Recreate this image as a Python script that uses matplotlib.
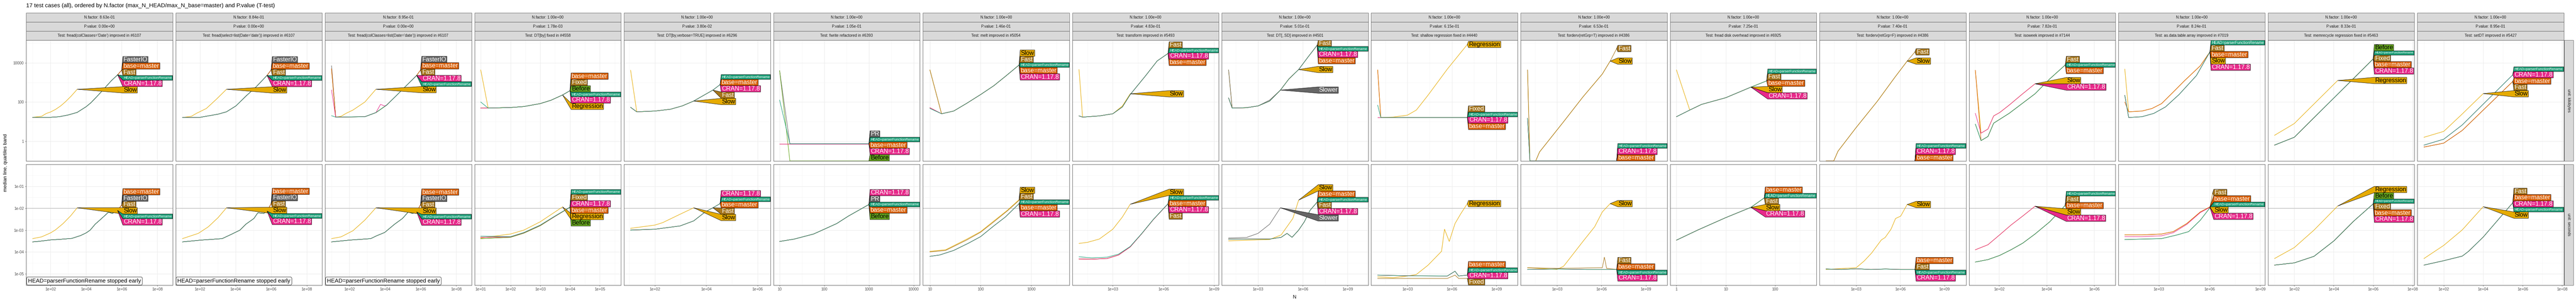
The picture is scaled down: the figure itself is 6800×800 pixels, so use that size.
import numpy as np
import matplotlib
matplotlib.use("Agg")
import matplotlib.pyplot as plt
from matplotlib.patches import Polygon, Rectangle
from matplotlib.transforms import IdentityTransform
from matplotlib.font_manager import FontProperties
from matplotlib.ticker import NullFormatter

FONT = "Liberation Sans"
plt.rcParams["font.family"] = [FONT, "DejaVu Sans"]

HEAD = "HEAD=parserFunctionRename"
BASE = "base=master"
CRAN = "CRAN=1.17.8"
Z = -np.inf  # 0 kilobytes -> log10 is -Inf, ggplot puts it on the panel edge

TITLE = "17 test cases (all), ordered by N.factor (max_N_HEAD/max_N_base=master) and P.value (T-test)"
TESTS = [
    "fread(colClasses='Date') improved in #6107",
    "fread(select=list(Date='date')) improved in #6107",
    "fread(colClasses=list(Date='date')) improved in #6107",
    "DT[by] fixed in #4558",
    "DT[by,verbose=TRUE] improved in #6296",
    "fwrite refactored in #6393",
    "melt improved in #5054",
    "transform improved in #5493",
    "DT[,.SD] improved in #4501",
    "shallow regression fixed in #4440",
    "forderv(retGrp=T) improved in #4386",
    "fread disk overhead improved in #6925",
    "forderv(retGrp=F) improved in #4386",
    "isoweek improved in #7144",
    "as.data.table.array improved in #7019",
    "memrecycle regression fixed in #5463",
    "setDT improved in #5427",
]
N_FACTOR = [0.863, 0.884, 0.895] + [1.0] * 14
P_VALUE = [0.0, 0.0, 0.0, 1.78e-3, 3.80e-2, 1.05e-1, 1.46e-1, 4.83e-1, 5.01e-1,
           6.15e-1, 6.53e-1, 7.25e-1, 7.40e-1, 7.82e-1, 8.24e-1, 8.33e-1, 8.95e-1]

# log10(N) range and breaks of every panel (free x scales)
X_LIM = [(0.633, 8.855), (0.633, 8.855), (0.633, 8.855), (0.79, 5.71), (0.79, 6.5),
         (0.86, 4.14), (0.86, 3.75), (0.60, 9.27), (0.57, 10.37), (0.55, 10.43),
         (0.54, 10.43), (-0.13, 2.84), (0.50, 10.47), (0.73, 6.89), (0.60, 9.27),
         (0.66, 8.08), (0.66, 8.08)]
X_BREAKS = [[2, 4, 6, 8]] * 3 + [[1, 2, 3, 4, 5], [2, 4, 6], [1, 2, 3, 4], [1, 2, 3],
            [3, 6, 9], [3, 6, 9], [3, 6, 9], [3, 6, 9], [0, 1, 2], [3, 6, 9],
            [2, 4, 6], [3, 6, 9], [2, 4, 6, 8], [2, 4, 6, 8]]
X_PLAIN = {5, 6, 11}

# curves: label -> (log10 N, log10 value)
# 0 fread(colClasses='Date')
p00_n = [1.0, 2.0, 2.5, 3.0, 3.5, 4.0, 4.28, 4.71, 5.06, 5.42, 5.77, 6.0]
p00_kb_v = [1.22, 1.22, 1.25, 1.34, 1.47, 1.76, 1.97, 2.38, 2.73, 3.09, 3.39, 3.63]
p00_kb = {
    "Slow": ([1.0, 1.5, 1.75, 2.0, 2.28, 2.57, 2.85, 3.17, 3.5],
             [1.22, 1.27, 1.41, 1.49, 1.62, 1.80, 2.02, 2.31, 2.65]),
    HEAD: (p00_n[:-1], p00_kb_v[:-1]), CRAN: (p00_n[:-1], p00_kb_v[:-1]),
    BASE: (p00_n, p00_kb_v), "Fast": (p00_n, p00_kb_v), "FasterIO": (p00_n, p00_kb_v),
}
p00_sn = [1.0, 1.29, 2.0, 2.57, 3.2, 3.69, 4.0, 4.23, 4.51, 4.83, 5.26, 5.47, 5.77, 6.0]
p00_sec_v = [-3.54, -3.52, -3.45, -3.42, -3.38, -3.25, -3.13, -3.0, -2.73, -2.50, -2.18, -2.24, -2.10, -1.85]
p00_sec = {
    "Slow": ([1.0, 1.5, 2.0, 2.28, 2.71, 3.13, 3.5], [-3.39, -3.31, -3.13, -2.99, -2.70, -2.35, -1.98]),
    HEAD: (p00_sn[:-1], p00_sec_v[:-1]), CRAN: (p00_sn[:-1], p00_sec_v[:-1]),
    BASE: (p00_sn, p00_sec_v), "Fast": (p00_sn, p00_sec_v), "FasterIO": (p00_sn, p00_sec_v),
}

# 1 fread(select=list(Date='date'))
p01_n = [1.02, 2.02, 3.02, 3.49, 4.02, 4.58, 5.14, 5.77, 6.0]
p01_kb_v = [1.21, 1.22, 1.38, 1.50, 1.80, 2.30, 2.76, 3.36, 3.64]
p01_kb = {
    "Slow": ([1.02, 1.52, 1.80, 2.36, 2.91, 3.49], [1.21, 1.27, 1.42, 1.67, 2.13, 2.65]),
    HEAD: (p01_n[:-1], p01_kb_v[:-1]), CRAN: (p01_n[:-1], p01_kb_v[:-1]),
    BASE: (p01_n, p01_kb_v), "Fast": (p01_n, p01_kb_v), "FasterIO": (p01_n, p01_kb_v),
}
p01_sn = [1.02, 2.02, 3.25, 3.80, 4.25, 4.58, 5.03, 5.25, 5.58, 5.77, 6.0]
p01_sec_v = [-3.54, -3.46, -3.39, -3.18, -3.0, -2.73, -2.47, -2.21, -2.24, -2.13, -1.79]
p01_sec = {
    "Slow": ([1.02, 1.91, 2.47, 3.02, 3.49], [-3.39, -3.15, -2.85, -2.43, -1.98]),
    HEAD: (p01_sn[:-1], p01_sec_v[:-1]), CRAN: (p01_sn[:-1], p01_sec_v[:-1]),
    BASE: (p01_sn, p01_sec_v), "Fast": (p01_sn, p01_sec_v), "FasterIO": (p01_sn, p01_sec_v),
}

# 2 fread(colClasses=list(Date='date'))
p02_n = [1.0, 1.23, 2.87, 3.49, 4.09, 4.65, 5.2, 5.78, 6.0]
p02_kb = {
    "Slow": ([1.0, 1.23, 1.53, 1.81, 2.2, 2.87, 3.49], [3.64, 1.23, 1.27, 1.42, 1.59, 2.0, 2.65]),
    HEAD: (p02_n[:-1], [1.30, 1.23, 1.25, 1.46, 1.84, 2.34, 2.84, 3.36]),
    CRAN: ([1.0, 1.23, 2.87, 3.49, 3.75, 3.98, 4.09, 4.65, 5.2, 5.78],
           [2.61, 1.23, 1.25, 1.46, 1.88, 1.80, 1.84, 2.34, 2.84, 3.36]),
    BASE: (p02_n, [3.70, 1.23, 1.25, 1.46, 1.84, 2.34, 2.84, 3.36, 3.64]),
    "Fast": (p02_n, [3.70, 1.23, 1.25, 1.46, 1.84, 2.34, 2.84, 3.36, 3.64]),
    "FasterIO": (p02_n, [3.85, 1.23, 1.25, 1.46, 1.84, 2.34, 2.84, 3.36, 3.64]),
}
p02_sn = [1.0, 1.98, 3.2, 3.53, 3.98, 4.54, 4.98, 5.31, 5.54, 5.78, 6.0]
p02_sec_v = [-3.54, -3.46, -3.39, -3.26, -3.11, -2.73, -2.47, -2.17, -2.24, -2.17, -1.83]
p02_sec = {
    "Slow": ([1.0, 1.53, 2.2, 2.87, 3.49], [-3.39, -3.31, -3.03, -2.54, -1.98]),
    HEAD: (p02_sn[:-1], p02_sec_v[:-1]), CRAN: (p02_sn[:-1], p02_sec_v[:-1]),
    BASE: (p02_sn, p02_sec_v), "Fast": (p02_sn, p02_sec_v), "FasterIO": (p02_sn, p02_sec_v),
}

# 3 DT[by]
p03_n = [1.0, 1.25, 2.0, 2.45, 3.0, 3.36, 3.75, 4.0]
p03_kb_v = [1.69, 1.69, 1.72, 1.77, 1.92, 2.09, 2.36, 2.58]
p03_kb = {
    "Regression": (p03_n[:-1], [3.64, 1.69, 1.72, 1.77, 1.92, 2.09, 2.36]),
    HEAD: (p03_n, [2.0] + p03_kb_v[1:]), CRAN: (p03_n, p03_kb_v), BASE: (p03_n, p03_kb_v),
    "Fixed": (p03_n, p03_kb_v), "Before": (p03_n, p03_kb_v),
}
p03_sn = [1.0, 2.0, 2.45, 3.0, 3.49, 4.0]
p03_sec = {
    "Regression": ([1.0, 2.0, 2.45, 3.0, 3.75], [-3.36, -3.18, -3.0, -2.62, -1.94]),
    HEAD: (p03_sn, [-3.28, -3.30, -3.11, -2.77, -2.36, -1.95]),
    CRAN: (p03_sn, [-3.33, -3.31, -3.12, -2.78, -2.37, -1.95]),
    BASE: (p03_sn, [-3.33, -3.31, -3.12, -2.78, -2.37, -1.95]),
    "Fixed": (p03_sn, [-3.39, -3.33, -3.14, -2.80, -2.38, -1.96]),
    "Before": (p03_sn, [-3.39, -3.33, -3.14, -2.80, -2.38, -1.96]),
}

# 4 DT[by,verbose=TRUE]
p04_n = [1.05, 1.29, 2.0, 2.6, 3.06, 3.51, 4.26, 4.54]
p04_kb_v = [1.73, 1.50, 1.54, 1.63, 1.80, 2.05, 2.61, 2.89]
p04_kb = {
    "Slow": (p04_n[:6], [3.62, 1.50, 1.54, 1.63, 1.80, 2.05]),
    "Fast": (p04_n[:7], p04_kb_v[:7]),
    HEAD: (p04_n, p04_kb_v), CRAN: (p04_n, p04_kb_v), BASE: (p04_n, p04_kb_v),
}
p04_sn = [1.05, 2.0, 2.98, 3.51, 3.96, 4.26, 4.54]
p04_sec_v = [-3.0, -2.96, -2.81, -2.58, -2.17, -1.98, -1.79]
p04_sec = {
    "Slow": ([1.05, 2.0, 2.3, 2.9, 3.51], [-2.92, -2.77, -2.66, -2.32, -1.98]),
    "Fast": (p04_sn[:-1], p04_sec_v[:-1]),
    HEAD: (p04_sn, p04_sec_v), CRAN: (p04_sn, p04_sec_v), BASE: (p04_sn, p04_sec_v),
}

# 5 fwrite
p05_kb = {
    "PR": ([1.0, 1.23, 3.0], [3.6, -0.13, -0.13]),
    HEAD: ([1.0, 1.23, 3.0], [2.1, -0.13, -0.13]),
    BASE: ([1.0, 3.0], [-0.13, -0.13]),
    CRAN: ([1.0, 3.0], [-0.13, -0.13]),
    "Before": ([1.0, 1.23, 3.0], [3.6, Z, Z]),
}
p05_sn = [1.0, 1.33, 1.76, 2.0, 2.28, 2.54, 3.0]
p05_sec_v = [-3.52, -3.41, -3.18, -2.96, -2.70, -2.36, -1.83]
p05_sec = {k: (p05_sn, p05_sec_v) for k in ["PR", HEAD, BASE, CRAN, "Before"]}

# 6 melt
p06_n = [1.0, 1.23, 1.47, 1.73, 2.0, 2.26, 2.49, 2.76]
p06_kb_v = [1.40, 1.54, 1.94, 2.38, 2.83, 3.31, 3.89]
p06_kb = {
    "Slow": (p06_n, [3.64] + p06_kb_v), "Fast": (p06_n, [3.64] + p06_kb_v),
    HEAD: (p06_n, [1.67] + p06_kb_v), CRAN: (p06_n, [1.71] + p06_kb_v),
    BASE: (p06_n, [1.71] + p06_kb_v),
}
p06_sn = [1.0, 1.19, 1.47, 1.76, 2.0, 2.26, 2.49, 2.76]
p06_sec_v = [-4.20, -4.14, -3.93, -3.60, -3.30, -2.81, -2.40, -1.79]
p06_sec = {
    "Slow": ([1.0, 1.31, 1.73, 2.0, 2.22, 2.53, 2.76], [-3.97, -3.90, -3.41, -3.07, -2.66, -2.09, -1.61]),
    "Fast": ([1.0, 1.31, 1.73, 2.0, 2.22, 2.53, 2.76], [-4.0, -3.93, -3.45, -3.10, -2.70, -2.12, -1.64]),
    HEAD: (p06_sn, p06_sec_v), CRAN: (p06_sn, p06_sec_v), BASE: (p06_sn, p06_sec_v),
}

# 7 transform
p07_n = [1.0, 1.21, 2.2, 3.0, 3.57, 4.03, 4.95, 5.63, 6.27]
p07_kb_v = [1.29, 1.23, 1.29, 1.40, 1.75, 2.38, 3.35, 4.10, 4.48]
p07_kb = {
    "Slow": (p07_n[:6], [3.66, 1.23, 1.29, 1.40, 1.80, 2.42]),
    HEAD: (p07_n, p07_kb_v), CRAN: (p07_n, p07_kb_v), BASE: (p07_n, p07_kb_v), "Fast": (p07_n, p07_kb_v),
}
p07_sn = [1.0, 1.74, 2.66, 3.34, 4.03, 4.72, 5.4, 6.27]
p07_sec_v = [-4.32, -4.33, -4.30, -4.14, -3.77, -3.16, -2.52, -1.80]
p07_sec = {
    "Slow": ([1.0, 1.5, 2.2, 3.0, 3.57, 4.03], [-3.61, -3.56, -3.41, -2.96, -2.40, -1.82]),
    HEAD: (p07_sn, [-4.22, -4.27, -4.24, -4.10, -3.75, -3.15, -2.51, -1.79]),
    CRAN: (p07_sn, p07_sec_v), BASE: (p07_sn, p07_sec_v), "Fast": (p07_sn, p07_sec_v),
}

# 8 DT[,.SD]
p08_n = [1.03, 1.27, 2.22, 3.0, 3.78, 4.5, 5.07, 5.72, 6.36, 6.96]
p08_kb_v = [2.21, 1.69, 1.71, 1.80, 2.05, 2.61, 3.18, 3.66, 4.31, 4.90]
p08_kb = {
    "Slower": (p08_n[:6], [3.64, 1.69, 1.71, 1.80, 2.10, 2.61]),
    "Slow": (p08_n[:8], [3.64, 1.69, 1.71, 1.80, 2.05, 2.61, 3.18, 3.66]),
    HEAD: (p08_n, p08_kb_v), CRAN: (p08_n, p08_kb_v), BASE: (p08_n, p08_kb_v), "Fast": (p08_n, p08_kb_v),
}
p08_sn = [1.03, 3.78, 4.55, 4.94, 5.28, 5.72, 6.10, 6.49, 6.96]
p08_sec_v = [-3.41, -3.41, -3.33, -3.15, -3.33, -3.0, -2.62, -2.09, -1.72]
p08_sec = {
    "Slower": ([1.03, 2.22, 3.0, 3.78, 4.5], [-3.36, -3.34, -3.15, -2.73, -1.98]),
    "Slow": ([1.03, 3.78, 4.55, 5.33, 5.72], [-3.49, -3.43, -3.22, -2.47, -1.63]),
    HEAD: (p08_sn, p08_sec_v), CRAN: (p08_sn, p08_sec_v), BASE: (p08_sn, p08_sec_v), "Fast": (p08_sn, p08_sec_v),
}

# 9 shallow regression
p09_kb = {
    "Regression": ([0.99, 1.2, 2.03, 3.0, 3.6, 4.38, 5.69, 7.04], [3.64, 1.21, 1.23, 1.33, 1.59, 2.34, 3.68, 4.94]),
    HEAD: ([0.99, 1.2, 7.04], [1.84, 1.21, 1.21]),
    BASE: ([0.99, 1.2, 7.04], [3.64, 1.21, 1.21]),
    CRAN: ([0.99, 1.2, 7.04], [1.21, 1.21, 1.21]),
    "Fixed": ([0.99, 1.2, 7.04], [1.21, 1.21, 1.21]),
}
p09_sn = [0.99, 3.0, 5.69, 6.21, 6.45, 7.04]
p09_sec_v = [-5.06, -5.09, -5.10, -4.88, -5.10, -5.06]
p09_sec = {
    "Regression": ([0.99, 2.03, 3.0, 3.6, 4.38, 5.3, 5.5, 5.82, 6.21, 6.6, 7.04],
                   [-5.14, -5.18, -5.10, -5.03, -4.61, -3.97, -2.96, -3.52, -2.70, -2.25, -1.79]),
    HEAD: (p09_sn, p09_sec_v), CRAN: (p09_sn, p09_sec_v), BASE: (p09_sn, p09_sec_v),
    "Fixed": (p09_sn, [-5.21, -5.21, -5.21, -5.06, -5.21, -5.21]),
}

# 10 forderv(retGrp=T)
p10_n = [1.01, 1.17, 1.56, 1.82, 3.45, 4.75, 6.06, 6.59, 7.03]
p10_kb_v = [3.64, Z, Z, -0.55, 1.0, 2.26, 3.43, 4.09, 4.73]
p10_kb = {
    "Slow": (p10_n[:-1], p10_kb_v[:-1]), "Fast": (p10_n, p10_kb_v),
    HEAD: ([1.01, 1.17, 7.03], [1.17, Z, Z]), CRAN: ([1.01, 1.17, 7.03], [1.17, Z, Z]),
    BASE: ([1.01, 1.17, 7.03], [1.17, Z, Z]),
}
p10_sec = {
    "Slow": ([1.01, 3.0, 3.45, 4.75, 5.54, 6.06, 6.59], [-4.72, -4.8, -4.65, -3.52, -2.85, -2.17, -1.79]),
    "Fast": ([1.01, 3.0, 6.06, 6.2, 6.35, 7.03], [-4.72, -4.75, -4.72, -4.24, -4.75, -4.8]),
    HEAD: ([1.01, 3.0, 5.0, 7.03], [-4.8, -4.78, -4.8, -4.8]),
    CRAN: ([1.01, 3.0, 5.0, 7.03], [-4.8, -4.78, -4.8, -4.8]),
    BASE: ([1.01, 3.0, 5.0, 7.03], [-4.8, -4.78, -4.8, -4.8]),
}

# 11 fread disk overhead
p11_n = [0.0, 0.27, 0.51, 1.0, 1.51, 1.83]
p11_kb_v = [1.25, 1.59, 1.88, 2.22, 2.76, 3.08]
p11_kb = {
    "Slow": (p11_n[:-1], [3.64, 1.59, 1.88, 2.22, 2.76]), CRAN: (p11_n[:-1], p11_kb_v[:-1]),
    HEAD: (p11_n, p11_kb_v), BASE: (p11_n, p11_kb_v), "Fast": (p11_n, p11_kb_v),
}
p11_sn = [0.0, 0.43, 1.0, 1.51, 1.78]
p11_sec_v = [-3.46, -3.0, -2.43, -1.96, -1.53]
p11_sec = {
    "Slow": (p11_sn[:-1], p11_sec_v[:-1]), CRAN: (p11_sn[:-1], p11_sec_v[:-1]),
    HEAD: (p11_sn, p11_sec_v), BASE: (p11_sn, p11_sec_v), "Fast": (p11_sn, p11_sec_v),
}

# 12 forderv(retGrp=F)
p12_n = [0.95, 1.47, 1.76, 3.0, 4.45, 5.63, 6.47, 7.0]
p12_kb_v = [Z, Z, -0.51, 0.70, 2.05, 3.26, 4.09, 4.56]
p12_kb = {
    "Slow": (p12_n[:-1], p12_kb_v[:-1]), "Fast": (p12_n, p12_kb_v),
    HEAD: ([0.95, 7.0], [Z, Z]), CRAN: ([0.95, 7.0], [Z, Z]), BASE: ([0.95, 7.0], [Z, Z]),
}
p12_sn = [0.95, 2.0, 3.0, 4.0, 5.0, 6.0, 7.0]
p12_sec_v = [-4.78, -4.80, -4.77, -4.80, -4.78, -4.80, -4.80]
p12_sec = {
    "Slow": ([0.95, 3.0, 3.53, 4.05, 4.71, 4.97, 5.37, 5.68, 6.03, 6.47],
             [-4.8, -4.72, -4.42, -4.05, -3.45, -3.34, -2.96, -2.47, -2.36, -1.83]),
    HEAD: (p12_sn, p12_sec_v), CRAN: (p12_sn, p12_sec_v), BASE: (p12_sn, p12_sec_v), "Fast": (p12_sn, p12_sec_v),
}

# 13 isoweek
p13_n_slow = [1.0, 1.24, 1.53, 1.77, 2.02, 2.42, 2.99, 3.51]
p13_n = [1.0, 1.24, 1.53, 1.77, 2.42, 3.51, 4.13, 4.78]
p13_kb_v = [0.03, 0.24, 0.92, 1.42, 2.42, 3.18, 3.89]
p13_kb = {
    "Slow": (p13_n_slow, [3.62, 0.41, 0.62, 1.29, 1.46, 1.84, 2.42, 2.93]),
    CRAN: (p13_n_slow, [1.42, 0.41, 0.62, 1.29, 1.46, 1.84, 2.42, 2.93]),
    HEAD: (p13_n, [0.87] + p13_kb_v), "Fast": (p13_n, [0.87] + p13_kb_v), BASE: (p13_n, [3.62] + p13_kb_v),
}
p13_sn = [1.0, 1.53, 2.02, 2.5, 2.99, 3.51, 4.13, 4.78]
p13_sec_v = [-4.46, -4.35, -4.16, -3.90, -3.60, -3.18, -2.62, -1.87]
p13_sec = {
    "Slow": (p13_sn[:6], [-3.90, -3.67, -3.22, -2.77, -2.36, -1.91]),
    CRAN: (p13_sn[:6], [-3.90, -3.67, -3.22, -2.77, -2.36, -1.91]),
    HEAD: (p13_sn, p13_sec_v), "Fast": (p13_sn, p13_sec_v), BASE: (p13_sn, p13_sec_v),
}

# 14 as.data.table.array
p14_n_up = [0.98, 1.21, 2.0, 2.59, 3.16, 3.85, 4.53, 5.45, 6.02]
p14_up_v = [1.50, 1.54, 1.67, 1.92, 2.51, 3.10, 3.85, 4.56]
p14_n_lo = [0.98, 1.21, 2.0, 2.7, 3.39, 4.19, 5.22, 6.02]
p14_lo_v = [2.34, 1.21, 1.25, 1.42, 1.75, 2.38, 3.35, 4.56]
p14_kb = {
    "Slow": (p14_n_up, [3.68] + p14_up_v), BASE: (p14_n_up, [2.0] + p14_up_v),
    HEAD: (p14_n_lo, p14_lo_v), CRAN: (p14_n_lo, p14_lo_v), "Fast": (p14_n_lo, p14_lo_v),
}
p14_sn = [0.98, 2.0, 3.16, 3.85, 4.65, 5.45, 6.02]
p14_sec = {
    "Slow": (p14_sn, [-3.22, -3.22, -3.18, -3.07, -2.70, -2.17, -1.94]),
    BASE: (p14_sn, [-3.22, -3.22, -3.18, -3.07, -2.70, -2.17, -1.94]),
    CRAN: (p14_sn, [-3.30, -3.30, -3.26, -3.12, -2.74, -2.20, -1.96]),
    HEAD: ([0.98, 3.16, 4.08, 4.76, 5.45, 6.02], [-3.43, -3.39, -3.22, -3.07, -2.55, -1.98]),
    "Fast": ([0.98, 3.16, 4.08, 4.76, 5.45, 6.02, 6.18], [-3.43, -3.39, -3.22, -3.07, -2.55, -1.98, -1.31]),
}

# 15 memrecycle regression
p15_n = [1.0, 2.0, 3.0, 4.0, 5.0, 6.0]
p15_kb_v = [-0.2, 0.2, 1.2, 2.2, 3.2, 4.2]
p15_kb = {
    "Regression": ([1.0, 2.0, 3.0, 4.2], [0.3, 0.9, 1.9, 3.1]),
    "Before": (p15_n, p15_kb_v), HEAD: (p15_n, p15_kb_v), "Fixed": (p15_n, p15_kb_v),
    BASE: (p15_n, p15_kb_v), CRAN: (p15_n, p15_kb_v),
}
p15_sec_v = [-4.6, -4.5, -4.2, -3.5, -2.6, -1.8]
p15_sec = {
    "Regression": ([1.0, 2.0, 3.0, 4.2], [-4.3, -3.8, -3.0, -1.9]),
    "Before": (p15_n, p15_sec_v), HEAD: (p15_n, p15_sec_v), "Fixed": (p15_n, p15_sec_v),
    BASE: (p15_n, p15_sec_v), CRAN: (p15_n, p15_sec_v),
}

# 16 setDT
p16_kb = {
    "Slow": ([1.0, 2.0, 2.94, 4.0], [0.2, 0.5, 1.39, 2.43]),
    HEAD: ([1.0, 2.0, 2.94, 5.5], [-0.2, 0.1, 0.83, 3.39]),
    CRAN: ([1.0, 2.0, 2.94, 5.5], [-0.2, 0.1, 0.83, 3.39]),
    BASE: ([1.0, 2.0, 2.94, 5.5], [-0.3, -0.1, 0.55, 3.05]),
    "Fast": ([1.0, 2.0, 2.94, 5.5], [-0.3, -0.1, 0.55, 3.05]),
}
p16_sn = [1.0, 2.0, 2.94, 3.26, 4.0, 5.5]
p16_sec_v = [-4.6, -4.4, -4.19, -3.97, -3.32, -1.75]
p16_sec = {
    "Slow": ([1.0, 2.0, 2.94, 4.0], [-4.3, -3.7, -2.99, -1.93]),
    HEAD: (p16_sn, p16_sec_v), CRAN: (p16_sn, p16_sec_v),
    BASE: (p16_sn, p16_sec_v), "Fast": (p16_sn, p16_sec_v),
}

KB = [p00_kb, p01_kb, p02_kb, p03_kb, p04_kb, p05_kb, p06_kb, p07_kb, p08_kb,
      p09_kb, p10_kb, p11_kb, p12_kb, p13_kb, p14_kb, p15_kb, p16_kb]
SEC = [p00_sec, p01_sec, p02_sec, p03_sec, p04_sec, p05_sec, p06_sec, p07_sec, p08_sec,
       p09_sec, p10_sec, p11_sec, p12_sec, p13_sec, p14_sec, p15_sec, p16_sec]

# top-to-bottom order of the direct labels in each panel
KB_ORDER = [
    ["FasterIO", BASE, "Fast", HEAD, CRAN, "Slow"],
    ["FasterIO", BASE, "Fast", HEAD, CRAN, "Slow"],
    ["FasterIO", BASE, "Fast", CRAN, HEAD, "Slow"],
    [BASE, "Fixed", "Before", HEAD, CRAN, "Regression"],
    [HEAD, BASE, CRAN, "Fast", "Slow"],
    ["PR", HEAD, BASE, CRAN, "Before"],
    ["Slow", "Fast", HEAD, BASE, CRAN],
    ["Fast", HEAD, CRAN, BASE, "Slow"],
    ["Fast", HEAD, CRAN, BASE, "Slow", "Slower"],
    ["Regression", "Fixed", HEAD, CRAN, BASE],
    ["Fast", "Slow", HEAD, CRAN, BASE],
    [HEAD, "Fast", BASE, "Slow", CRAN],
    ["Fast", "Slow", HEAD, CRAN, BASE],
    ["Fast", HEAD, BASE, "Slow", CRAN],
    [HEAD, "Fast", BASE, "Slow", CRAN],
    ["Before", HEAD, "Fixed", BASE, CRAN, "Regression"],
    [HEAD, CRAN, BASE, "Fast", "Slow"],
]
SEC_ORDER = [
    [BASE, "FasterIO", "Fast", "Slow", HEAD, CRAN],
    [BASE, "FasterIO", "Fast", "Slow", HEAD, CRAN],
    [BASE, "FasterIO", "Fast", "Slow", HEAD, CRAN],
    [HEAD, "Fixed", CRAN, BASE, "Regression", "Before"],
    [CRAN, HEAD, BASE, "Fast", "Slow"],
    [CRAN, "PR", HEAD, BASE, "Before"],
    ["Slow", "Fast", HEAD, BASE, CRAN],
    ["Slow", HEAD, BASE, CRAN, "Fast"],
    ["Slow", BASE, HEAD, "Fast", CRAN, "Slower"],
    ["Regression", BASE, HEAD, CRAN, "Fixed"],
    ["Slow", "Fast", BASE, HEAD, CRAN],
    [BASE, HEAD, "Fast", "Slow", CRAN],
    ["Slow", BASE, "Fast", HEAD, CRAN],
    [HEAD, "Fast", BASE, "Slow", CRAN],
    ["Fast", BASE, HEAD, "Slow", CRAN],
    ["Regression", "Before", HEAD, "Fixed", BASE, CRAN],
    ["Fast", BASE, CRAN, HEAD, "Slow"],
]
STOPPED_EARLY = [0, 1, 2]

COLORS = {HEAD: "#1B9E77", BASE: "#D95F02", CRAN: "#E7298A", "Slow": "#E6AB02",
          "Regression": "#E6AB02", "Fast": "#A6761D", "Fixed": "#A6761D",
          "FasterIO": "#666666", "PR": "#666666", "Slower": "#666666", "Before": "#66A61E"}
DARK_TEXT = {"Slow", "Regression", "Before"}
DRAW_ORDER = ["Slow", "Regression", "Slower", "Fast", "Fixed", "FasterIO", "PR", "Before", BASE, CRAN, HEAD]

FW, FH = 6800, 800
PX0, PW, PSTEP = 69, 386.5, 394.5
LABEL_PT = 11.7
PAD = 1.5


def rect(x0, y0, x1, y1):
    """pixel box measured from the top-left corner -> figure fraction"""
    return [x0 / FW, 1 - y1 / FH, (x1 - x0) / FW, (y1 - y0) / FH]


def minor_of(breaks, lim):
    step = breaks[1] - breaks[0]
    m = [b - step / 2 for b in breaks] + [breaks[-1] + step / 2]
    return [v for v in m if lim[0] <= v <= lim[1]]


def pava(a):
    blocks = []
    for val in a:
        blocks.append([val, 1])
        while len(blocks) > 1 and blocks[-2][0] / blocks[-2][1] > blocks[-1][0] / blocks[-1][1]:
            s, k = blocks.pop()
            blocks[-1][0] += s
            blocks[-1][1] += k
    out = []
    for s, k in blocks:
        out += [s / k] * k
    return np.array(out)


def direct_labels(ax, data, order, ylo, renderer):
    bb = ax.bbox
    ends = {}
    for name in order:
        n, v = data[name]
        ey = v[-1] if np.isfinite(v[-1]) else ylo
        ends[name] = ax.transData.transform((10.0 ** n[-1], 10.0 ** ey))
    left = max(p[0] for p in ends.values()) + 3
    sizes, widths, heights = [], [], []
    for name in order:
        fs = LABEL_PT
        w = renderer.get_text_width_height_descent(name, FontProperties(family=FONT, size=fs), ismath=False)[0]
        room = bb.x1 - left - 2 * PAD
        if w > room:
            fs *= room / w
            w = room
        sizes.append(fs)
        widths.append(w)
        heights.append(0.6 * fs * 100 / 72 + 7)
    h = np.array(heights)
    t = np.array([-ends[nm][1] for nm in order])  # "down" coordinates
    c = np.concatenate([[0], np.cumsum((h[:-1] + h[1:]) / 2)])
    u = pava(t - c) + c
    below = np.cumsum(h[::-1])[::-1] - h
    above = np.concatenate([[0], np.cumsum(h)[:-1]])
    u = np.minimum(u, -bb.y0 - below - h / 2)
    u = np.maximum(u, -bb.y1 + above + h / 2)
    for k, name in enumerate(order):
        yc = -u[k]
        top, bot = yc + h[k] / 2, yc - h[k] / 2
        right = left + widths[k] + 2 * PAD
        tip = ends[name]
        poly = Polygon([tip, (left, top), (right, top), (right, bot), (left, bot)], closed=True,
                       fc=COLORS[name], ec="black", lw=0.6, transform=IdentityTransform(), zorder=5)
        ax.add_artist(poly)
        ax.text(left + PAD, yc, name, transform=IdentityTransform(), fontsize=sizes[k],
                color="black" if name in DARK_TEXT else "white", ha="left", va="center",
                zorder=6, clip_on=True)


ROWS = [
    dict(unit="kilobytes", data=KB, order=KB_ORDER, ylim=(-1.01, 5.16), y0=106, y1=425,
         breaks=[0, 2, 4], labels=["1", "100", "10000"]),
    dict(unit="seconds", data=SEC, order=SEC_ORDER, ylim=(-5.52, 0.014), y0=433.5, y1=753,
         breaks=[-5, -4, -3, -2, -1], labels=["1e-05", "1e-04", "1e-03", "1e-02", "1e-01"]),
]

fig = plt.figure(figsize=(FW / 100, FH / 100), dpi=100)
fig.patch.set_facecolor("white")
jobs = []

for r, row in enumerate(ROWS):
    ylo, yhi = row["ylim"]
    for i in range(17):
        x0 = PX0 + i * PSTEP
        ax = fig.add_axes(rect(x0, row["y0"], x0 + PW, row["y1"]))
        ax.set_xscale("log")
        ax.set_yscale("log")
        xl = X_LIM[i]
        ax.set_xlim(10.0 ** xl[0], 10.0 ** xl[1])
        ax.set_ylim(10.0 ** ylo, 10.0 ** yhi)
        ax.set_axisbelow(True)

        xb = X_BREAKS[i]
        xlab = [str(10 ** b) if i in X_PLAIN else f"1e+{b:02d}" for b in xb]
        ax.set_xticks([10.0 ** b for b in xb], xlab)
        ax.set_xticks([10.0 ** b for b in minor_of(xb, xl)], minor=True)
        ax.set_yticks([10.0 ** b for b in row["breaks"]], row["labels"])
        ax.set_yticks([10.0 ** b for b in minor_of(row["breaks"], row["ylim"])], minor=True)
        ax.xaxis.set_minor_formatter(NullFormatter())
        ax.yaxis.set_minor_formatter(NullFormatter())
        ax.grid(which="major", color="#EBEBEB", lw=0.8)
        ax.grid(which="minor", color="#F2F2F2", lw=0.45)
        ax.tick_params(which="major", length=2.3, width=0.5, color="#333333",
                       labelsize=7.3, labelcolor="#4D4D4D", pad=2.2)
        ax.tick_params(which="minor", length=0)
        if r == 0:
            ax.tick_params(axis="x", which="both", bottom=False, labelbottom=False)
        if i > 0:
            ax.tick_params(axis="y", which="both", left=False, labelleft=False)
        for sp in ax.spines.values():
            sp.set_color("#333333")
            sp.set_linewidth(0.6)

        if r == 1:
            ax.axhline(0.01, color="#BEBEBE", lw=1.1, zorder=1.8)

        data = row["data"][i]
        for name in DRAW_ORDER:
            if name not in data:
                continue
            n, v = data[name]
            v = np.array(v, dtype=float)
            yy = np.where(np.isfinite(v), 10.0 ** v, 10.0 ** ylo)
            ax.plot(10.0 ** np.array(n), yy, color=COLORS[name], lw=0.9,
                    solid_joinstyle="round", zorder=3)

        if r == 1 and i in STOPPED_EARLY:
            ax.text(5 / PW, 4 / 319.5, f"{HEAD} stopped early", transform=ax.transAxes,
                    fontsize=10.6, ha="left", va="bottom", zorder=7,
                    bbox=dict(boxstyle="round,pad=0.25,rounding_size=0.3", fc="white", ec="black", lw=0.6))
        jobs.append((ax, data, row["order"][i], ylo))

    # facet strip on the right
    fig.add_artist(Rectangle((6768.5 / FW, 1 - row["y1"] / FH), 24 / FW, (row["y1"] - row["y0"]) / FH,
                             transform=fig.transFigure, fc="#D9D9D9", ec="#333333", lw=0.5))
    fig.text(6780.5 / FW, 1 - (row["y0"] + row["y1"]) / 2 / FH, f"unit: {row['unit']}",
             rotation=270, ha="center", va="center", fontsize=7.3, color="#1A1A1A")

# facet strips on top
strip_rows = [(33.5, 57.7), (57.7, 81.8), (81.8, 106)]
for i in range(17):
    x0 = PX0 + i * PSTEP
    texts = [f"N.factor: {N_FACTOR[i]:.2e}", f"P.value: {P_VALUE[i]:.2e}", f"Test: {TESTS[i]}"]
    for (sy0, sy1), s in zip(strip_rows, texts):
        fig.add_artist(Rectangle((x0 / FW, 1 - sy1 / FH), PW / FW, (sy1 - sy0) / FH,
                                 transform=fig.transFigure, fc="#D9D9D9", ec="#333333", lw=0.5))
        fig.text((x0 + PW / 2) / FW, 1 - (sy0 + sy1) / 2 / FH, s, ha="center", va="center",
                 fontsize=7.3, color="#1A1A1A")

fig.text(PX0 / FW, 1 - 15 / FH, TITLE, ha="left", va="center", fontsize=11)
fig.text(15 / FW, 1 - 429.5 / FH, "median line, quartiles band", rotation=90,
         ha="center", va="center", fontsize=9.2)
fig.text(3418 / FW, 1 - 785 / FH, "N", ha="center", va="center", fontsize=9.2)

renderer = fig.canvas.get_renderer()
for ax, data, order, ylo in jobs:
    direct_labels(ax, data, order, ylo, renderer)

fig.savefig("out.png", dpi=100)
